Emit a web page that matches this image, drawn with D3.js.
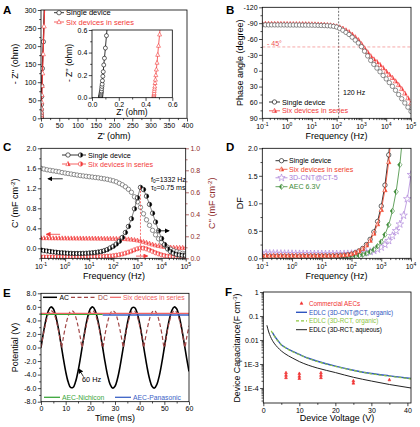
<!DOCTYPE html>
<html>
<head>
<meta charset="utf-8">
<script src="https://cdn.jsdelivr.net/npm/d3@7"></script>
<style>
  body { margin: 0; background: #fff; }
</style>
</head>
<body>
<div id="chart"></div>
<script>
// ---------------- data ----------------
// A: Nyquist (ohm)
var aSingleRe = [0.07,0.1,0.15,0.22,0.32,0.45,0.65,0.95,1.3,1.8,3.6,6.4,9.5];
var aSingleIm = [0.3,1,2.5,5,9,15,24,38,60,90,138,212,320];
var aSixRe = [0.46,0.5,0.6,0.75,0.95,1.2,1.6,2.2,3,4,5.8,8.2,12];
var aSixIm = [0.5,2,5,10,17,28,45,65,90,125,178,255,370];
// A inset
var aInSingleRe = [0.064,0.064,0.065,0.065,0.066,0.067,0.068,0.069,0.07,0.072,0.074,0.076,0.078,0.081,0.084,0.088,0.093,0.1,0.108,0.118];
var aInSingleIm = [0,0.005,0.01,0.015,0.02,0.03,0.04,0.05,0.06,0.08,0.1,0.12,0.15,0.19,0.23,0.29,0.35,0.44,0.55,0.68];
var aInSixRe = [0.461,0.461,0.462,0.462,0.463,0.464,0.465,0.467,0.469,0.471,0.474,0.477,0.481,0.486,0.491,0.497,0.505,0.512];
var aInSixIm = [0,0.005,0.01,0.02,0.03,0.04,0.06,0.08,0.1,0.13,0.16,0.2,0.25,0.31,0.38,0.46,0.56,0.66];

// shared frequency grid for B, C, D (Hz)
var freq = [0.1,0.133,0.178,0.237,0.316,0.422,0.562,0.75,
  1,1.33,1.78,2.37,3.16,4.22,5.62,7.5,
  10,13.3,17.8,23.7,31.6,42.2,56.2,75,
  100,133,178,237,316,422,562,750,
  1000,1330,1780,2370,3160,4220,5620,7500,
  10000,13300,17800,23700,31600,42200,56200,75000,
  100000];

// B: phase angle (degree)
var bSingle = [-86.8,-86.8,-86.7,-86.7,-86.7,-86.6,-86.6,-86.6,
  -86.5,-86.5,-86.5,-86.4,-86.4,-86.3,-86.3,-86.2,
  -86.1,-86.0,-85.8,-85.6,-85.4,-85.1,-84.7,-84.0,
  -82.6,-80.0,-76.5,-72.5,-68.6,-63.5,-58.0,-52.5,
  -45.5,-37.0,-28.0,-19.5,-12.0,-5.0,2.0,9.0,
  15.5,22.5,29.5,37.0,45.0,53.0,61.0,69.0,
  77.0];
var bSix = [-88.8,-88.8,-88.8,-88.7,-88.7,-88.7,-88.6,-88.6,
  -88.5,-88.5,-88.4,-88.4,-88.3,-88.3,-88.2,-88.1,
  -88.0,-87.8,-87.6,-87.3,-87.0,-86.6,-86.0,-85.2,
  -84.0,-82.2,-79.8,-76.5,-73.0,-68.5,-63.5,-58.0,
  -50.5,-42.5,-35.0,-27.5,-21.5,-16.5,-11.0,-5.0,
  1.5,7.5,13.5,20.0,27.0,34.5,43.0,52.0,
  61.5];

// C: C' (left axis) and C'' (right axis), mF cm-2
var cSingleRe = [1.60,1.585,1.57,1.56,1.55,1.54,1.53,1.515,
  1.505,1.495,1.485,1.475,1.465,1.455,1.447,1.44,
  1.432,1.425,1.417,1.41,1.40,1.39,1.38,1.365,
  1.35,1.33,1.30,1.27,1.23,1.18,1.12,1.03,
  0.93,0.82,0.69,0.57,0.46,0.36,0.27,0.19,
  0.12,0.06,0.02,-0.02,-0.05,-0.07,-0.09,-0.10,
  -0.11];
var cSingleIm = [0.075,0.07,0.066,0.062,0.058,0.055,0.052,0.05,
  0.048,0.046,0.045,0.044,0.044,0.044,0.045,0.046,
  0.048,0.05,0.053,0.057,0.062,0.07,0.08,0.095,
  0.11,0.13,0.155,0.19,0.235,0.29,0.36,0.45,
  0.55,0.645,0.625,0.565,0.49,0.41,0.33,0.25,
  0.18,0.125,0.085,0.06,0.045,0.035,0.03,0.027,
  0.025];
var cSixRe = [0.205,0.204,0.204,0.203,0.203,0.202,0.202,0.201,
  0.201,0.2,0.2,0.2,0.199,0.199,0.198,0.198,
  0.198,0.197,0.197,0.196,0.196,0.195,0.195,0.194,
  0.193,0.192,0.19,0.188,0.185,0.181,0.176,0.168,
  0.158,0.146,0.13,0.112,0.094,0.076,0.06,0.047,
  0.036,0.028,0.022,0.018,0.015,0.013,0.012,0.011,
  0.01];
var cSixIm = [0.012,0.012,0.012,0.012,0.012,0.012,0.012,0.012,
  0.012,0.012,0.012,0.012,0.012,0.012,0.013,0.013,
  0.013,0.014,0.014,0.015,0.016,0.017,0.019,0.021,
  0.024,0.028,0.033,0.039,0.047,0.056,0.066,0.077,
  0.087,0.094,0.092,0.085,0.074,0.062,0.05,0.04,
  0.031,0.024,0.019,0.016,0.014,0.012,0.011,0.01,
  0.01];
var cPeakFreq = 1332, cPeakVal = 0.645;

// D: dissipation factor (first 41 frequencies, up to 10^4 Hz)
var dFreq = freq.slice(0, 41);
var dSingle = [0.035,0.035,0.035,0.035,0.035,0.035,0.035,0.035,
  0.035,0.036,0.036,0.036,0.037,0.037,0.038,0.039,
  0.04,0.04,0.041,0.042,0.044,0.047,0.052,0.06,
  0.075,0.1,0.135,0.18,0.25,0.345,0.48,0.67,
  0.95,1.33,1.88,2.65,3.7,5.1,7,9.5,
  13];
var dSix = [0.05,0.05,0.05,0.05,0.05,0.049,0.049,0.049,
  0.049,0.049,0.049,0.049,0.049,0.049,0.049,0.049,
  0.049,0.049,0.049,0.05,0.051,0.054,0.058,0.066,
  0.08,0.1,0.13,0.17,0.235,0.32,0.45,0.62,
  0.88,1.24,1.75,2.45,3.4,4.7,6.5,9,
  12];
var dCnt = [0.09,0.089,0.088,0.087,0.086,0.085,0.084,0.083,
  0.082,0.081,0.08,0.079,0.078,0.078,0.077,0.077,
  0.077,0.077,0.077,0.077,0.077,0.078,0.079,0.08,
  0.083,0.086,0.09,0.097,0.106,0.12,0.14,0.165,
  0.2,0.25,0.32,0.41,0.5,0.62,0.78,1.08,
  1.52];
var dAec = [0.022,0.022,0.021,0.021,0.021,0.021,0.021,0.021,
  0.021,0.021,0.021,0.021,0.022,0.022,0.022,0.023,
  0.023,0.024,0.025,0.026,0.027,0.029,0.031,0.033,
  0.037,0.042,0.05,0.065,0.088,0.118,0.16,0.22,
  0.30,0.43,0.61,0.86,1.21,1.7,2.4,3.3,
  4.6];

// E: potential (V) vs time (ms)
var eTime = [0,1,2,3,4,5,6,7,8,9,10,11,12,13,14,15,16,17,18,19,20,21,22,23,24,
  25,26,27,28,29,30,31,32,33,34,35,36,37,38,39,40,41,42,43,44,45,46,47,48,49,
  50,51,52,53,54,55,56,57,58,59,60];
var eAC = [0,2.21,4.11,5.43,5.99,5.71,4.62,2.89,0.75,-1.49,-3.53,-5.07,-5.89,-5.89,-5.07,-3.53,-1.49,0.75,2.89,4.62,5.71,5.99,5.43,4.11,2.21,
  0,-2.21,-4.11,-5.43,-5.99,-5.71,-4.62,-2.89,-0.75,1.49,3.53,5.07,5.89,5.89,5.07,3.53,1.49,-0.75,-2.89,-4.62,-5.71,-5.99,-5.43,-4.11,-2.21,
  0,2.21,4.11,5.43,5.99,5.71,4.62,2.89,0.75,-1.49,-3.53];
var eDcTime = [0,1,2,3,4,5,6,7,8,8.33,9,10,11,12,13,14,15,16,16.67,
  17,18,19,20,21,22,23,24,25,26,27,28,29,30,31,32,33,33.33,
  34,35,36,37,38,39,40,41,41.67,
  42,43,44,45,46,47,48,49,50,51,52,53,54,55,56,57,58,58.33,59,60];
var eDC = [0,2.01,3.73,4.93,5.44,5.18,4.20,2.63,0.68,0,1.36,3.20,4.60,5.35,5.35,4.60,3.20,1.36,0,
  0.68,2.63,4.20,5.18,5.44,4.93,3.73,2.01,0,2.01,3.73,4.93,5.44,5.18,4.20,2.63,0.68,0,
  1.36,3.20,4.60,5.35,5.35,4.60,3.20,1.36,0,
  0.68,2.63,4.20,5.18,5.44,4.93,3.73,2.01,0,2.01,3.73,4.93,5.44,5.18,4.20,2.63,0.68,0,1.36,3.20];
var eSixT = [0, 60], eSixV = [5.05, 5.05];
var eNichT = [0, 25], eNichV = [4.9, 4.9];
var ePanaT = [25, 60], ePanaV = [4.8, 4.8];

// F: device capacitance (F cm-3) vs device voltage (V)
var fAecV = [6.3,6.3,6.3,10,10,10,16,16,16,25,25,35];
var fAecC = [4.3e-4,3.4e-4,2.7e-4,4.0e-4,3.1e-4,2.5e-4,4.3e-4,3.4e-4,2.7e-4,2.0e-4,1.6e-4,2.2e-4];
var fCntV = [2.5,3,4,5,6,8,10,12.5,15,20,25,30,35,41];
var fCntC = [0.021,0.0155,0.0096,0.0064,0.005,0.0034,0.0025,0.00174,0.0013,0.00081,0.00055,0.0004,0.00032,0.00025];
var fRctOrgV = [2.2,2.5,3,4,5,6,8,10,12.5,15,20,25,30,35,41];
var fRctOrgC = [0.024,0.02,0.015,0.0093,0.0062,0.0049,0.0033,0.00245,0.0017,0.00127,0.00079,0.00054,0.00039,0.00031,0.00024];
var fRctAqV = [1,1.5,2,3,4,5,6,8,10,12.5,15,20,25,30,35,41];
var fRctAqC = [0.041,0.0216,0.0138,0.0074,0.0049,0.0035,0.0027,0.0018,0.00126,0.00089,0.00068,0.00044,0.00028,0.000195,0.00014,0.0001];

// ---------------- drawing ----------------
var FONT = "Arial, 'Liberation Sans', Helvetica, sans-serif";
var RED = "#f23a3a", BROWN = "#8e2b2b";

var svg = d3.select("#chart").append("svg")
    .attr("width", 420).attr("height", 427)
    .style("font-family", FONT)
    .style("background", "#fff");
var defs = svg.append("defs");

[["arrowK", "#000"], ["arrowR", RED]].forEach(function (a) {
  defs.append("marker").attr("id", a[0])
      .attr("markerUnits", "userSpaceOnUse")
      .attr("markerWidth", 5).attr("markerHeight", 5)
      .attr("refX", 4).attr("refY", 2.5).attr("orient", "auto")
    .append("path").attr("d", "M0,0L5,2.5L0,5Z").attr("fill", a[1]);
});

function clipped(id, x0, y0, x1, y1) {
  defs.append("clipPath").attr("id", id).append("rect")
      .attr("x", x0).attr("y", y0).attr("width", x1 - x0).attr("height", y1 - y0);
  return svg.append("g").attr("clip-path", "url(#" + id + ")");
}

function frame(x0, y0, x1, y1) {
  svg.append("rect").attr("x", x0).attr("y", y0)
      .attr("width", x1 - x0).attr("height", y1 - y0)
      .attr("fill", "none").attr("stroke", "#000").attr("stroke-width", 0.8);
}

function styleAxis(g, color) {
  g.select(".domain").remove();
  g.selectAll("line").attr("stroke", color || "#000").attr("stroke-width", 0.7);
  g.selectAll("text").attr("fill", color || "#000");
  g.attr("font-size", 7).attr("font-family", FONT);
}

function axis(orient, scale, pos, majors, minors, fmt, color) {
  var mk = orient === "bottom" ? d3.axisBottom : orient === "left" ? d3.axisLeft : d3.axisRight;
  var tr = orient === "bottom" ? "translate(0," + pos + ")" : "translate(" + pos + ",0)";
  if (minors) {
    styleAxis(svg.append("g").attr("transform", tr)
        .call(mk(scale).tickValues(minors).tickSize(1.8).tickFormat("")), color);
  }
  var g = svg.append("g").attr("transform", tr)
      .call(mk(scale).tickValues(majors).tickSize(3.2).tickPadding(1.5).tickFormat(fmt || ""));
  styleAxis(g, color);
  return g;
}

function logMinors(lo, hi) {
  var out = [];
  for (var e = lo; e < hi; e++)
    for (var k = 2; k < 10; k++) out.push(k * Math.pow(10, e));
  return out;
}

function powLabels(scale, y, lo, hi) {
  for (var e = lo; e <= hi; e++) {
    var t = svg.append("text").attr("x", scale(Math.pow(10, e))).attr("y", y)
        .attr("text-anchor", "middle").attr("font-size", 7);
    t.append("tspan").text("10");
    t.append("tspan").attr("dy", -3).attr("font-size", 5).text(e);
  }
}

// parts: strings, {sup: ".."} or {sub: ".."}
function addParts(t, parts, fs) {
  var shift = 0;
  parts.forEach(function (p) {
    var s = t.append("tspan"), target = 0, txt = p;
    if (typeof p !== "string") {
      target = p.sup !== undefined ? -0.38 * fs : 0.25 * fs;
      txt = p.sup !== undefined ? p.sup : p.sub;
      s.attr("font-size", fs * 0.68);
    }
    if (target !== shift) { s.attr("dy", target - shift); shift = target; }
    s.text(txt);
  });
}

function label(x, y, parts, o) {
  o = o || {};
  var fs = o.size || 7;
  var t = svg.append("text").attr("x", x).attr("y", y)
      .attr("font-size", fs).attr("fill", o.color || "#000")
      .attr("text-anchor", o.anchor || "start");
  if (o.bold) t.attr("font-weight", "bold");
  if (o.rotate) t.attr("transform", "rotate(-90," + x + "," + y + ")");
  addParts(t, typeof parts === "string" ? [parts] : parts, fs);
  return t;
}

function marker(g, type, x, y, r, color) {
  var full, half = null, solid = false;
  if (type === "circle" || type === "halfCircle") {
    full = d3.arc()({innerRadius: 0, outerRadius: r, startAngle: 0, endAngle: 2 * Math.PI});
    if (type === "halfCircle") half = d3.arc()({innerRadius: 0, outerRadius: r, startAngle: 0, endAngle: Math.PI});
  } else if (type === "tri" || type === "halfTri" || type === "solidTri") {
    full = "M0," + (-1.15 * r) + "L" + r + "," + (0.75 * r) + "L" + (-r) + "," + (0.75 * r) + "Z";
    if (type === "halfTri") half = "M0," + (-1.15 * r) + "L" + r + "," + (0.75 * r) + "L0," + (0.75 * r) + "Z";
    solid = type === "solidTri";
  } else if (type === "halfDiamond") {
    full = "M0," + (-1.25 * r) + "L" + r + ",0L0," + (1.25 * r) + "L" + (-r) + ",0Z";
    half = "M0," + (-1.25 * r) + "L0," + (1.25 * r) + "L" + (-r) + ",0Z";
  } else if (type === "star") {
    full = d3.symbol().type(d3.symbolStar).size(r * r * 3.4)();
  }
  var tr = "translate(" + x + "," + y + ")";
  g.append("path").attr("d", full).attr("transform", tr)
      .attr("fill", solid ? color : "#fff").attr("stroke", color).attr("stroke-width", 0.6);
  if (half) g.append("path").attr("d", half).attr("transform", tr).attr("fill", color);
}

function series(g, xs, ys, sx, sy, o) {
  var pts = xs.map(function (x, i) { return [sx(x), sy(ys[i])]; });
  if (o.line) {
    g.append("path").attr("d", d3.line().curve(o.curve || d3.curveLinear)(pts))
        .attr("fill", "none").attr("stroke", o.line)
        .attr("stroke-width", o.lw || 0.7)
        .attr("stroke-dasharray", o.dash || null);
  }
  if (o.mark) pts.forEach(function (p) { marker(g, o.mark, p[0], p[1], o.r || 2.2, o.color); });
}

function legendRow(x0, x1, cy, o, tx, text, fs, color) {
  if (o.line) {
    svg.append("line").attr("x1", x0).attr("x2", x1).attr("y1", cy).attr("y2", cy)
        .attr("stroke", o.line).attr("stroke-width", o.lw || 0.8)
        .attr("stroke-dasharray", o.dash || null);
  }
  (o.marks || []).forEach(function (m) { marker(svg, m[0], m[1], cy, o.r || 2.2, o.color); });
  label(tx, cy + fs * 0.36, text, {size: fs, color: color});
}

function arrow(x1, y1, x2, y2, color, id) {
  svg.append("line").attr("x1", x1).attr("y1", y1).attr("x2", x2).attr("y2", y2)
      .attr("stroke", color).attr("stroke-width", 0.8)
      .attr("marker-end", "url(#" + id + ")");
}

var f1 = function (d) { return d.toFixed(1); };
var fInt = function (d) { return String(d); };

// ===== Panel A =====
var aX = d3.scaleLinear().domain([0, 400]).range([41, 187]);
var aY = d3.scaleLinear().domain([0, 300]).range([118.3, 10]);
var gA = clipped("clipA", 41, 10, 187, 118.3);
series(gA, aSingleRe, aSingleIm, aX, aY, {line: "#000", lw: 1.2, mark: "circle", color: "#000", r: 2.2});
series(gA, aSixRe, aSixIm, aX, aY, {line: RED, lw: 1.2, mark: "tri", color: RED, r: 2.3});
frame(41, 10, 187, 118.3);
axis("bottom", aX, 118.3, d3.range(0, 401, 50), d3.range(25, 400, 50), fInt);
axis("left", aY, 41, d3.range(0, 301, 50), d3.range(25, 300, 50), fInt);
label(114, 138.5, "Z' (ohm)", {size: 9, anchor: "middle"});
label(18.3, 64, "- Z'' (ohm)", {size: 9, anchor: "middle", rotate: true});
label(3, 13.5, "A", {size: 11.5, bold: true});
legendRow(54, 64, 12.7, {line: "#000", marks: [["circle", 59]], color: "#000"}, 66, "Single device", 7.5, "#000");
legendRow(54, 64, 22, {line: RED, marks: [["tri", 59]], color: RED}, 66, "Six devices in series", 7.5, RED);

// inset
var aiX = d3.scaleLinear().domain([0, 0.6]).range([92, 172.3]);
var aiY = d3.scaleLinear().domain([0, 0.6]).range([97.7, 30]);
svg.append("rect").attr("x", 92).attr("y", 30).attr("width", 80.3).attr("height", 67.7).attr("fill", "#fff");
var gAi = clipped("clipAi", 92, 30, 172.3, 97.7);
series(gAi, aInSingleRe, aInSingleIm, aiX, aiY, {line: "#000", lw: 0.8, mark: "circle", color: "#000", r: 2});
series(gAi, aInSixRe, aInSixIm, aiX, aiY, {line: RED, lw: 0.8, mark: "tri", color: RED, r: 2});
frame(92, 30, 172.3, 97.7);
axis("bottom", aiX, 97.7, [0, 0.2, 0.4, 0.6], [0.1, 0.3, 0.5], f1);
axis("left", aiY, 92, [0, 0.2, 0.4, 0.6], [0.1, 0.3, 0.5], f1);
label(132, 115, "Z' (ohm)", {size: 8.5, anchor: "middle"});
label(71.5, 63, "- Z'' (ohm)", {size: 8.5, anchor: "middle", rotate: true});

// ===== Panel B =====
var bX = d3.scaleLog().domain([0.1, 1e5]).range([262.3, 411]);
var bY = d3.scaleLinear().domain([-120, 90]).range([7.3, 118.3]);
var gB = clipped("clipB", 262.3, 7.3, 411, 118.3);
gB.append("line").attr("x1", bX(120)).attr("x2", bX(120)).attr("y1", 7.3).attr("y2", 118.3)
    .attr("stroke", "#333").attr("stroke-width", 0.7).attr("stroke-dasharray", "2,1.5");
gB.append("line").attr("x1", 262.3).attr("x2", 411).attr("y1", bY(-45)).attr("y2", bY(-45))
    .attr("stroke", "#f07070").attr("stroke-width", 0.6).attr("stroke-dasharray", "3,2");
series(gB, freq, bSix, bX, bY, {line: RED, lw: 0.5, mark: "halfTri", color: RED, r: 2.2});
series(gB, freq, bSingle, bX, bY, {line: "#555", lw: 0.5, mark: "circle", color: "#444", r: 2.2});
frame(262.3, 7.3, 411, 118.3);
axis("bottom", bX, 118.3, [0.1, 1, 10, 100, 1000, 1e4, 1e5], logMinors(-1, 5));
powLabels(bX, 128.5, -1, 5);
axis("left", bY, 262.3, d3.range(-120, 91, 30), d3.range(-105, 90, 30), fInt);
label(336.6, 139, "Frequency (Hz)", {size: 9, anchor: "middle"});
label(243, 62.8, "Phase angle (degree)", {size: 9, anchor: "middle", rotate: true});
label(226, 13.5, "B", {size: 11.5, bold: true});
label(343, 95, "120 Hz", {size: 7});
label(267, 45.5, "- 45°", {size: 7, color: "#f05050"});
legendRow(269, 280, 102, {line: "#000", marks: [["circle", 274.5]], color: "#000"}, 282, "Single device", 7.3, "#000");
legendRow(269, 280, 110.8, {line: RED, marks: [["halfTri", 274.5]], color: RED}, 282, "Six devices in series", 7.3, RED);

// ===== Panel C =====
var cX = d3.scaleLog().domain([0.1, 1e5]).range([41, 185.7]);
var cYL = d3.scaleLinear().domain([-0.2, 2.0]).range([258.3, 148.3]);
var cYR = d3.scaleLinear().domain([0, 1.0]).range([258.3, 148.3]);
var gC = clipped("clipC", 41, 148.3, 185.7, 258.3);
series(gC, freq, cSixIm, cX, cYR, {line: RED, lw: 0.5, mark: "halfCircle", color: RED, r: 2.1});
series(gC, freq, cSixRe, cX, cYL, {line: RED, lw: 0.5, mark: "halfTri", color: RED, r: 2.1});
series(gC, freq, cSingleRe, cX, cYL, {line: "#555", lw: 0.5, mark: "circle", color: "#444", r: 2.2});
series(gC, freq, cSingleIm, cX, cYR, {line: "#000", lw: 0.5, mark: "halfCircle", color: "#000", r: 2.2});
gC.append("line").attr("x1", cX(cPeakFreq)).attr("x2", cX(cPeakFreq))
    .attr("y1", cYR(cPeakVal)).attr("y2", 258.3)
    .attr("stroke", RED).attr("stroke-width", 0.7).attr("stroke-dasharray", "2,1.5");
frame(41, 148.3, 185.7, 258.3);
axis("bottom", cX, 258.3, [0.1, 1, 10, 100, 1000, 1e4, 1e5], logMinors(-1, 5));
powLabels(cX, 268.5, -1, 5);
axis("left", cYL, 41, [0, 0.4, 0.8, 1.2, 1.6, 2.0], [-0.2, 0.2, 0.6, 1.0, 1.4, 1.8], f1);
axis("right", cYR, 185.7, [0, 0.2, 0.4, 0.6, 0.8, 1.0], [0.1, 0.3, 0.5, 0.7, 0.9], f1, BROWN);
label(114, 278.5, "Frequency (Hz)", {size: 9, anchor: "middle"});
label(18.3, 203.3, ["C' (mF cm", {sup: "-2"}, ")"], {size: 9, anchor: "middle", rotate: true});
label(215.5, 203.3, ["C'' (mF cm", {sup: "-2"}, ")"], {size: 9, anchor: "middle", rotate: true, color: BROWN});
label(3, 150.5, "C", {size: 11.5, bold: true});
label(151, 181.7, ["f", {sub: "0"}, "=1332 Hz"], {size: 7});
label(151, 189.5, ["τ", {sub: "0"}, "=0.75 ms"], {size: 7});
arrow(cX(0.8), cYL(1.39), cX(0.2), cYL(1.39), "#000", "arrowK");
arrow(cX(6500), cYR(0.25), cX(20000), cYR(0.25), "#000", "arrowK");
arrow(cX(0.62), cYL(0.28), cX(0.17), cYL(0.28), RED, "arrowR");
arrow(cX(870), cYR(0.02), cX(2600), cYR(0.02), RED, "arrowR");
legendRow(62, 86, 155, {line: "#000", marks: [["circle", 68], ["halfCircle", 80.5]], color: "#000"}, 88, "Single device", 7.2, "#000");
legendRow(62, 86, 164, {line: RED, marks: [["halfTri", 68], ["halfCircle", 80.5]], color: RED}, 88, "Six devices in series", 7.2, RED);

// ===== Panel D =====
var D_RED = "#f0442c", PURPLE = "#a77bd6", D_GREEN = "#3d8b37";
var dX = d3.scaleLog().domain([0.1, 1e4]).range([262.3, 411]);
var dY = d3.scaleLinear().domain([0, 2.0]).range([258.3, 148.3]);
var gD = clipped("clipD", 262.3, 148.3, 411, 258.3);
series(gD, dFreq, dCnt, dX, dY, {line: PURPLE, lw: 0.7, mark: "star", color: PURPLE, r: 2.3});
series(gD, dFreq, dAec, dX, dY, {line: D_GREEN, lw: 0.8, mark: "halfDiamond", color: D_GREEN, r: 2.2});
series(gD, dFreq, dSingle, dX, dY, {line: "#000", lw: 0.8, mark: "circle", color: "#000", r: 2.2});
series(gD, dFreq, dSix, dX, dY, {line: D_RED, lw: 0.8, mark: "halfTri", color: D_RED, r: 2.2});
frame(262.3, 148.3, 411, 258.3);
axis("bottom", dX, 258.3, [0.1, 1, 10, 100, 1000, 1e4], logMinors(-1, 4));
powLabels(dX, 268.5, -1, 4);
axis("left", dY, 262.3, [0, 0.5, 1.0, 1.5, 2.0], [0.25, 0.75, 1.25, 1.75], f1);
label(336.6, 278.5, "Frequency (Hz)", {size: 9, anchor: "middle"});
label(243, 203.3, "DF", {size: 9, anchor: "middle", rotate: true});
label(226, 150.5, "D", {size: 11.5, bold: true});
legendRow(275.5, 287.5, 160.7, {line: "#000", marks: [["circle", 281.5]], color: "#000"}, 289, "Single device", 7.1, "#000");
legendRow(275.5, 287.5, 169.3, {line: D_RED, marks: [["halfTri", 281.5]], color: D_RED}, 289, "Six devices in series", 7.1, D_RED);
legendRow(275.5, 287.5, 177.8, {line: PURPLE, marks: [["star", 281.5]], color: PURPLE}, 289, "3D-CNT@CT-5", 7.1, PURPLE);
legendRow(275.5, 287.5, 186.7, {line: D_GREEN, marks: [["halfDiamond", 281.5]], color: D_GREEN}, 289, "AEC 6.3V", 7.1, D_GREEN);

// ===== Panel E =====
var E_RED = "#f06464", DC_COL = "#a04545", E_GREEN = "#3aa63a", E_BLUE = "#3c62c6";
var eX = d3.scaleLinear().domain([0, 60]).range([41, 189]);
var eY = d3.scaleLinear().domain([-8, 8]).range([401.7, 293.3]);
var gE = clipped("clipE", 41, 293.3, 189, 401.7);
series(gE, eTime, eAC, eX, eY, {line: "#000", lw: 1.6, curve: d3.curveCatmullRom});
series(gE, eDcTime, eDC, eX, eY, {line: DC_COL, lw: 1.2, dash: "4,2.5", curve: d3.curveCatmullRom});
series(gE, ePanaT, ePanaV, eX, eY, {line: E_BLUE, lw: 1.3});
series(gE, eNichT, eNichV, eX, eY, {line: E_GREEN, lw: 1.3});
series(gE, eSixT, eSixV, eX, eY, {line: E_RED, lw: 1.3});
frame(41, 293.3, 189, 401.7);
axis("bottom", eX, 401.7, d3.range(0, 61, 10), d3.range(5, 60, 10), fInt);
axis("left", eY, 41, d3.range(-8, 9, 2), d3.range(-7, 8, 2), f1);
label(115, 421, "Time (ms)", {size: 9, anchor: "middle"});
label(18.3, 347.5, "Potential (V)", {size: 9, anchor: "middle", rotate: true});
label(3, 296.5, "E", {size: 11.5, bold: true});
arrow(eX(17.2), eY(-4.3), eX(15.4), eY(-3.2), "#000", "arrowK");
label(82, 382, "60 Hz", {size: 7.3});
legendRow(43, 57, 297.3, {line: "#000", lw: 1.5}, 59.5, "AC", 6.8, "#000");
legendRow(71, 95, 297.3, {line: DC_COL, lw: 1.2, dash: "4,2.5"}, 98, "DC", 6.8, DC_COL);
legendRow(110, 121, 297.3, {line: E_RED, lw: 1.2}, 123, "Six devices in series", 6.8, E_RED);
legendRow(44, 60, 397.3, {line: E_GREEN, lw: 1.3}, 62, "AEC-Nichicon", 6.8, E_GREEN);
legendRow(115, 131, 397.3, {line: E_BLUE, lw: 1.3}, 133, "AEC-Panasonic", 6.8, E_BLUE);

// ===== Panel F =====
var F_BLUE = "#2f55c0", F_GREEN = "#8cc63f", F_RED = "#f03030";
var fX = d3.scaleLinear().domain([0, 41]).range([263.3, 411]);
var fY = d3.scaleLog().domain([2.37e-5, 1]).range([403, 292]);
var gF = clipped("clipF", 263.3, 292, 411, 403);
series(gF, fRctAqV, fRctAqC, fX, fY, {line: "#222", lw: 1.0, curve: d3.curveMonotoneX});
series(gF, fCntV, fCntC, fX, fY, {line: F_BLUE, lw: 1.4, curve: d3.curveMonotoneX});
series(gF, fRctOrgV, fRctOrgC, fX, fY, {line: F_GREEN, lw: 1.2, dash: "3,2", curve: d3.curveMonotoneX});
series(gF, fAecV, fAecC, fX, fY, {mark: "solidTri", color: F_RED, r: 1.4});
frame(263.3, 292, 411, 403);
axis("bottom", fX, 403, d3.range(0, 41, 10), d3.range(5, 41, 10), fInt);
var fLabels = {1: "1", 0.1: "0.1", 0.01: "0.01", 0.001: "1E-3", 0.0001: "1E-4"};
axis("left", fY, 263.3, [1, 0.1, 0.01, 0.001, 0.0001],
     logMinors(-5, 0).filter(function (v) { return v >= 2.37e-5; }),
     function (d) { return fLabels[d]; });
label(337, 421, "Device Voltage (V)", {size: 9, anchor: "middle"});
label(240, 348, ["Device Capacitance(F cm", {sup: "-3"}, ")"], {size: 8.8, anchor: "middle", rotate: true});
label(225, 295.5, "F", {size: 11.5, bold: true});
legendRow(296, 307, 303.3, {marks: [["solidTri", 301.5]], color: F_RED, r: 1.4}, 309, "Commercial AECs", 6.3, F_RED);
legendRow(296, 307, 312.3, {line: F_BLUE, lw: 1.4}, 309, "EDLC (3D-CNT@CT, organic)", 6.3, F_BLUE);
legendRow(296, 307, 320.8, {line: F_GREEN, lw: 1.2, dash: "3,2"}, 309, "EDLC (3D-RCT, organic)", 6.3, F_GREEN);
legendRow(296, 307, 329.7, {line: "#222", lw: 1.0}, 309, "EDLC (3D-RCT, aqueous)", 6.3, "#000");
</script>
</body>
</html>
